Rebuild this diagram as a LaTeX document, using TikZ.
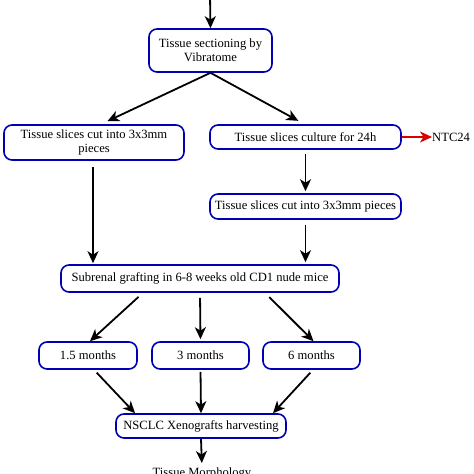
\documentclass[tikz,border=0pt]{standalone}
\usepackage{fontspec}
\setmainfont{Liberation Serif}
\usetikzlibrary{arrows.meta}
\tikzset{
    stage/.style={draw=blue!70!black, line width=1.6pt, rounded corners=8pt,
        align=center, inner sep=2pt, font=\fontsize{12.6}{14}\selectfont},
    flow/.style={-{Stealth[length=12pt,width=11pt,inset=3.5pt]}, line width=1.8pt},
}
\begin{document}
\begin{tikzpicture}[x=1pt,y=-1pt]
        \useasboundingbox (0,0) rectangle (474,474);
        \begin{scope}[every node/.style={stage}] 
            \node[minimum width=123pt, minimum height=43pt] (sect) at (210.5,50.5) {Tissue sectioning by\\Vibratome};
            \node[minimum width=180pt, minimum height=35pt] (cutL) at (94,142.5) {Tissue slices cut into 3x3mm\\pieces};
            \node[minimum width=191pt, minimum height=24pt] (cult) at (305.5,137) {Tissue slices culture for 24h};
            \node[minimum width=191pt, minimum height=25pt] (cutR) at (305.5,206.5) {Tissue slices cut into 3x3mm pieces};
            \node[minimum width=278pt, minimum height=27pt] (graft) at (200,278.5) {Subrenal grafting in 6-8 weeks old CD1 nude mice};
            \node[minimum width=98pt, minimum height=27pt] (m15) at (88,355.5) {1.5 months};
            \node[minimum width=97pt, minimum height=27pt] (m3) at (200.5,355.5) {3 months};
            \node[minimum width=97pt, minimum height=27pt] (m6) at (311.5,355.5) {6 months};
            \node[minimum width=170pt, minimum height=24pt] (harv) at (201,426) {NSCLC Xenografts harvesting};
        \end{scope}
        \node[font=\fontsize{12.6}{14}\selectfont, anchor=west, inner sep=0pt] (ntc) at (432,137) {NTC24};
        \node[font=\fontsize{12.6}{14}\selectfont, anchor=north, inner sep=0pt] (morph) at (202,468) {Tissue Morphology};
        \coordinate (start) at (210,-5);

        \draw[flow] (start) -- (sect.north);
        \draw[flow, shorten >=7pt] (sect.south) -- ([xshift=7pt]cutL.north);
        \draw[flow, shorten >=7pt] (sect.south) -- ([xshift=-1pt]cult.north);
        \draw[flow, red!85!black] (cult.east) -- (ntc.west);
        \draw[flow, shorten <=4pt, shorten >=2pt] (cult.south) -- (cutR.north);
        \draw[flow, shorten <=6pt, shorten >=1pt] ([xshift=-1pt]cutL.south) -- ([xshift=-107pt]graft.north);
        \draw[flow, shorten <=5pt, shorten >=2pt] (cutR.south) -- ([xshift=105.5pt]graft.north);
        \draw[flow, shorten <=6pt] ([xshift=-57pt]graft.south) -- ([xshift=2pt]m15.north);
        \draw[flow, shorten <=5pt, shorten >=2pt] (graft.south) -- (m3.north);
        \draw[flow, shorten <=6pt] ([xshift=65pt]graft.south) -- ([xshift=2pt]m6.north);
        \draw[flow, shorten <=4pt] ([xshift=6pt]m15.south) -- ([xshift=-66pt]harv.north);
        \draw[flow, shorten <=2pt] (m3.south) -- (harv.north);
        \draw[flow, shorten <=4pt] ([xshift=1.5pt]m6.south) -- ([xshift=72pt]harv.north);
        \draw[flow, shorten >=5pt] (harv.south) -- (morph.north);
    \end{tikzpicture}
\end{document}
